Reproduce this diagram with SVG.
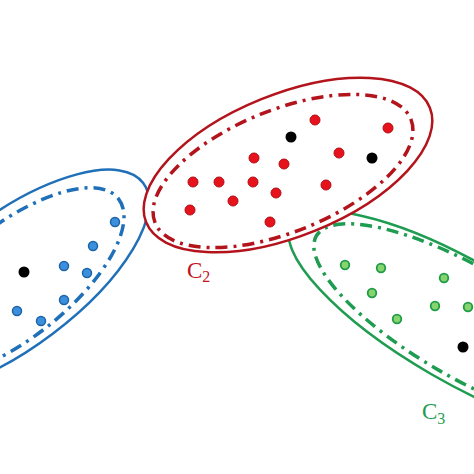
<svg xmlns="http://www.w3.org/2000/svg" width="474" height="474" viewBox="0 0 474 474">
<style>
.outer{fill:none;stroke-width:2.5}
.inner{fill:none;stroke-width:3.5;stroke-dasharray:12 6 3 6}
.blue{stroke:#1f70b8}
.red{stroke:#b3141c}
.green{stroke:#1e9c50}
.bd{fill:#3c8fdc;stroke:#1c64a8;stroke-width:1.5}
.rd{fill:#e6121c;stroke:#b00d15;stroke-width:1}
.gd{fill:#86d46e;stroke:#1f9c46;stroke-width:1.8}
.kd{fill:#000}
.lbl{font-family:"Liberation Serif","Times New Roman",serif;font-size:23px}
</style>
<rect width="474" height="474" fill="#fff"/>
<g id="connectors"></g>
<g id="cluster-blue">
<ellipse class="outer blue" cx="13" cy="281" rx="163" ry="66" transform="rotate(-37 13 281)"/>
<ellipse class="inner blue" cx="13.5" cy="282" rx="134" ry="56" transform="rotate(-38.5 13.5 282)"/>
<circle class="bd" cx="115" cy="222" r="4.5"/>
<circle class="bd" cx="93" cy="246" r="4.5"/>
<circle class="bd" cx="64" cy="266" r="4.5"/>
<circle class="bd" cx="87" cy="273" r="4.5"/>
<circle class="bd" cx="64" cy="300" r="4.5"/>
<circle class="bd" cx="17" cy="311" r="4.5"/>
<circle class="bd" cx="41" cy="321" r="4.5"/>
<circle class="kd" cx="24" cy="272" r="5.5"/>
</g>
<g id="cluster-green">
<ellipse class="outer green" cx="461" cy="322" rx="196" ry="60" transform="rotate(30 461 322)"/>
<ellipse class="inner green" cx="467" cy="323" rx="174" ry="55" transform="rotate(30 467 323)"/>
<circle class="gd" cx="345" cy="265" r="4.3"/>
<circle class="gd" cx="381" cy="268" r="4.3"/>
<circle class="gd" cx="444" cy="278" r="4.3"/>
<circle class="gd" cx="372" cy="293" r="4.3"/>
<circle class="gd" cx="435" cy="306" r="4.3"/>
<circle class="gd" cx="468" cy="307" r="4.3"/>
<circle class="gd" cx="397" cy="319" r="4.3"/>
<circle class="kd" cx="463" cy="347" r="5.5"/>
<text class="lbl" x="422" y="419" fill="#1e9c50">C<tspan font-size="16" dy="5">3</tspan></text>
</g>
<g id="cluster-red">
<ellipse class="outer red" cx="288" cy="165" rx="153" ry="71" transform="rotate(-22 288 165)" style="fill:#fff"/>
<ellipse class="inner red" cx="283" cy="171" rx="138" ry="61" transform="rotate(-22 283 171)"/>
<circle class="rd" cx="315" cy="120" r="5"/>
<circle class="rd" cx="388" cy="128" r="5"/>
<circle class="kd" cx="291" cy="137" r="5.5"/>
<circle class="rd" cx="339" cy="153" r="5"/>
<circle class="kd" cx="372" cy="158" r="5.5"/>
<circle class="rd" cx="254" cy="158" r="5"/>
<circle class="rd" cx="284" cy="164" r="5"/>
<circle class="rd" cx="193" cy="182" r="5"/>
<circle class="rd" cx="219" cy="182" r="5"/>
<circle class="rd" cx="253" cy="182" r="5"/>
<circle class="rd" cx="326" cy="185" r="5"/>
<circle class="rd" cx="276" cy="193" r="5"/>
<circle class="rd" cx="233" cy="201" r="5"/>
<circle class="rd" cx="190" cy="210" r="5"/>
<circle class="rd" cx="270" cy="222" r="5"/>
<text class="lbl" x="187" y="278" fill="#c0141c">C<tspan font-size="16" dy="4">2</tspan></text>
</g>
</svg>
